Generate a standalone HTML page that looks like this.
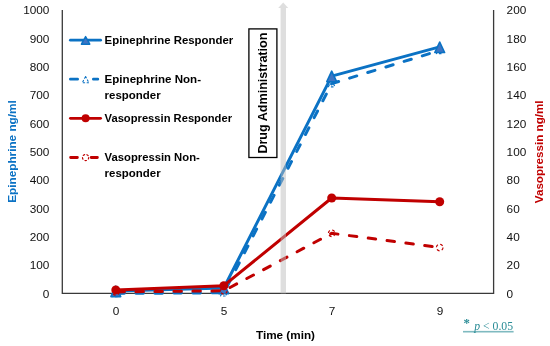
<!DOCTYPE html>
<html><head><meta charset="utf-8"><title>Chart</title>
<style>
html,body{margin:0;padding:0;background:#fff;}
body{width:550px;height:346px;overflow:hidden;}
svg{display:block;}
text{font-family:"Liberation Sans",sans-serif;}
.t{font-size:11.8px;fill:#111;}
.b{font-size:11.7px;font-weight:bold;fill:#000;}
.s{font-family:"Liberation Serif",serif;}
</style></head><body>
<svg width="550" height="346" viewBox="0 0 550 346">
<rect width="550" height="346" fill="#fff"/>
<path d="M62.3,10 V293.4 H493.6 V10" fill="none" stroke="#3a3a3a" stroke-width="1.3"/>
<text class="t" x="49.4" y="297.5" text-anchor="end">0</text>
<text class="t" x="49.4" y="269.2" text-anchor="end">100</text>
<text class="t" x="49.4" y="240.8" text-anchor="end">200</text>
<text class="t" x="49.4" y="212.5" text-anchor="end">300</text>
<text class="t" x="49.4" y="184.2" text-anchor="end">400</text>
<text class="t" x="49.4" y="155.8" text-anchor="end">500</text>
<text class="t" x="49.4" y="127.5" text-anchor="end">600</text>
<text class="t" x="49.4" y="99.2" text-anchor="end">700</text>
<text class="t" x="49.4" y="70.9" text-anchor="end">800</text>
<text class="t" x="49.4" y="42.5" text-anchor="end">900</text>
<text class="t" x="49.4" y="14.2" text-anchor="end">1000</text>
<text class="t" x="506.6" y="297.5">0</text>
<text class="t" x="506.6" y="269.2">20</text>
<text class="t" x="506.6" y="240.8">40</text>
<text class="t" x="506.6" y="212.5">60</text>
<text class="t" x="506.6" y="184.2">80</text>
<text class="t" x="506.6" y="155.8">100</text>
<text class="t" x="506.6" y="127.5">120</text>
<text class="t" x="506.6" y="99.2">140</text>
<text class="t" x="506.6" y="70.9">160</text>
<text class="t" x="506.6" y="42.5">180</text>
<text class="t" x="506.6" y="14.2">200</text>
<text class="t" x="116.1" y="315.4" text-anchor="middle">0</text>
<text class="t" x="224.1" y="315.4" text-anchor="middle">5</text>
<text class="t" x="332.0" y="315.4" text-anchor="middle">7</text>
<text class="t" x="440.0" y="315.4" text-anchor="middle">9</text>
<g fill="none" stroke-linejoin="round" stroke-linecap="round">
<polyline points="115.8,293.4 223.8,292.8 331.7,83.6 439.7,50.5" stroke="#0b72c4" stroke-width="3" stroke-dasharray="7.5 11.5" stroke-dashoffset="-1.1"/>
<polygon points="115.8,290.2 119.1,296.6 112.5,296.6" fill="none" stroke="#0b72c4" stroke-width="1.2" stroke-linecap="butt" stroke-dasharray="2.6 2.4" stroke-dashoffset="1.3"/>
<polygon points="223.8,289.6 227.1,296.0 220.5,296.0" fill="none" stroke="#0b72c4" stroke-width="1.2" stroke-linecap="butt" stroke-dasharray="2.6 2.4" stroke-dashoffset="1.3"/>
<polygon points="331.7,80.4 335.0,86.8 328.4,86.8" fill="none" stroke="#0b72c4" stroke-width="1.2" stroke-linecap="butt" stroke-dasharray="2.6 2.4" stroke-dashoffset="1.3"/>
<polygon points="439.7,47.3 443.0,53.7 436.4,53.7" fill="none" stroke="#0b72c4" stroke-width="1.2" stroke-linecap="butt" stroke-dasharray="2.6 2.4" stroke-dashoffset="1.3"/>
<polyline points="115.8,291.0 223.8,288.0 331.7,76.1 439.7,46.9" stroke="#0b72c4" stroke-width="3"/>
<polygon points="115.8,286.1 120.7,296.6 110.9,296.6" fill="#3f74c3" stroke="#0b72c4" stroke-width="1.6"/>
<polygon points="223.8,283.1 228.7,293.6 218.9,293.6" fill="#3f74c3" stroke="#0b72c4" stroke-width="1.6"/>
<polygon points="331.7,71.2 336.6,81.7 326.8,81.7" fill="#3f74c3" stroke="#0b72c4" stroke-width="1.6"/>
<polygon points="439.7,42.0 444.6,52.5 434.8,52.5" fill="#3f74c3" stroke="#0b72c4" stroke-width="1.6"/>
<polyline points="115.8,291.9 223.8,290.8 331.7,233.3 439.7,247.5" stroke="#c00000" stroke-width="3" stroke-dasharray="7.5 11.5" stroke-dashoffset="-1.1"/>
<circle cx="115.8" cy="291.9" r="3.3" fill="none" stroke="#c00000" stroke-width="1.2" stroke-linecap="butt" stroke-dasharray="2.9 2.3"/>
<circle cx="223.8" cy="290.8" r="3.3" fill="none" stroke="#c00000" stroke-width="1.2" stroke-linecap="butt" stroke-dasharray="2.9 2.3"/>
<circle cx="331.7" cy="233.3" r="3.3" fill="none" stroke="#c00000" stroke-width="1.2" stroke-linecap="butt" stroke-dasharray="2.9 2.3"/>
<circle cx="439.7" cy="247.5" r="3.3" fill="none" stroke="#c00000" stroke-width="1.2" stroke-linecap="butt" stroke-dasharray="2.9 2.3"/>
<polyline points="115.8,289.9 223.8,285.7 331.7,198.0 439.7,201.7" stroke="#c00000" stroke-width="3"/>
<circle cx="115.8" cy="289.9" r="4.5" fill="#c00000" stroke="none"/>
<circle cx="223.8" cy="285.7" r="4.5" fill="#c00000" stroke="none"/>
<circle cx="331.7" cy="198.0" r="4.5" fill="#c00000" stroke="none"/>
<circle cx="439.7" cy="201.7" r="4.5" fill="#c00000" stroke="none"/>
</g>
<path d="M283.2,2.4 L288.2,8 H286 V293.4 H280.6 V8 H278.2 Z" fill="#bdbdbd" fill-opacity="0.5"/>
<rect x="248.9" y="28.9" width="28" height="128.6" fill="#fff" stroke="#000" stroke-width="1.3"/>
<text class="b" style="font-size:12.5px" transform="translate(266.9,153.6) rotate(-90)" textLength="121" lengthAdjust="spacingAndGlyphs">Drug Administration</text>
<g fill="none" stroke-linecap="round">
<line x1="70.4" y1="40.2" x2="100.6" y2="40.2" stroke="#0b72c4" stroke-width="2.8"/>
<polygon points="85.6,36.6 89.8,44.2 81.4,44.2" fill="#3f74c3" stroke="#0b72c4" stroke-width="1.4" stroke-linejoin="round"/>
<path d="M70.4,79.2 H77.6 M93.4,79.2 H97.8" stroke="#0b72c4" stroke-width="2.8"/>
<polygon points="85.6,76.6 89.0,82.8 82.2,82.8" fill="none" stroke="#0b72c4" stroke-width="1.1" stroke-dasharray="1.4 2.4" stroke-linejoin="round"/>
<line x1="70.4" y1="118.3" x2="100.6" y2="118.3" stroke="#c00000" stroke-width="2.8"/>
<circle cx="85.6" cy="118.3" r="4" fill="#c00000"/>
<path d="M70.6,157.5 H77.4 M91.2,157.5 H97.4" stroke="#c00000" stroke-width="2.8"/>
<circle cx="85.6" cy="157.5" r="3.1" fill="none" stroke="#c00000" stroke-width="1.2" stroke-dasharray="1.5 2.4"/>
</g>
<text class="b" x="104.6" y="43.8" textLength="128.6" lengthAdjust="spacingAndGlyphs">Epinephrine Responder</text>
<text class="b" x="104.6" y="82.8" textLength="96.4" lengthAdjust="spacingAndGlyphs">Epinephrine Non-</text>
<text class="b" x="104.6" y="99.1" textLength="56" lengthAdjust="spacingAndGlyphs">responder</text>
<text class="b" x="104.6" y="121.8" textLength="127.4" lengthAdjust="spacingAndGlyphs">Vasopressin Responder</text>
<text class="b" x="104.6" y="161.1" textLength="95.2" lengthAdjust="spacingAndGlyphs">Vasopressin Non-</text>
<text class="b" x="104.6" y="177.4" textLength="56" lengthAdjust="spacingAndGlyphs">responder</text>
<text class="b" style="fill:#0b72c4" transform="translate(15.7,202.8) rotate(-90)" textLength="102.6" lengthAdjust="spacingAndGlyphs">Epinephrine ng/ml</text>
<text class="b" style="fill:#c00000" transform="translate(542.7,203.2) rotate(-90)" textLength="102.8" lengthAdjust="spacingAndGlyphs">Vasopressin ng/ml</text>
<text class="b" x="256" y="339.3" textLength="59" lengthAdjust="spacingAndGlyphs">Time (min)</text>
<text class="s" x="463.4" y="327.2" font-size="12.8" font-weight="bold" fill="#2a8c96">*</text>
<text class="s" x="474.2" y="330" font-size="11.8" fill="#2a8c96" textLength="38.9" lengthAdjust="spacingAndGlyphs"><tspan font-style="italic">p</tspan> &lt; 0.05</text>
<rect x="463" y="330.9" width="50.6" height="1.6" fill="#2a8c96" fill-opacity="0.6"/>
</svg></body></html>
